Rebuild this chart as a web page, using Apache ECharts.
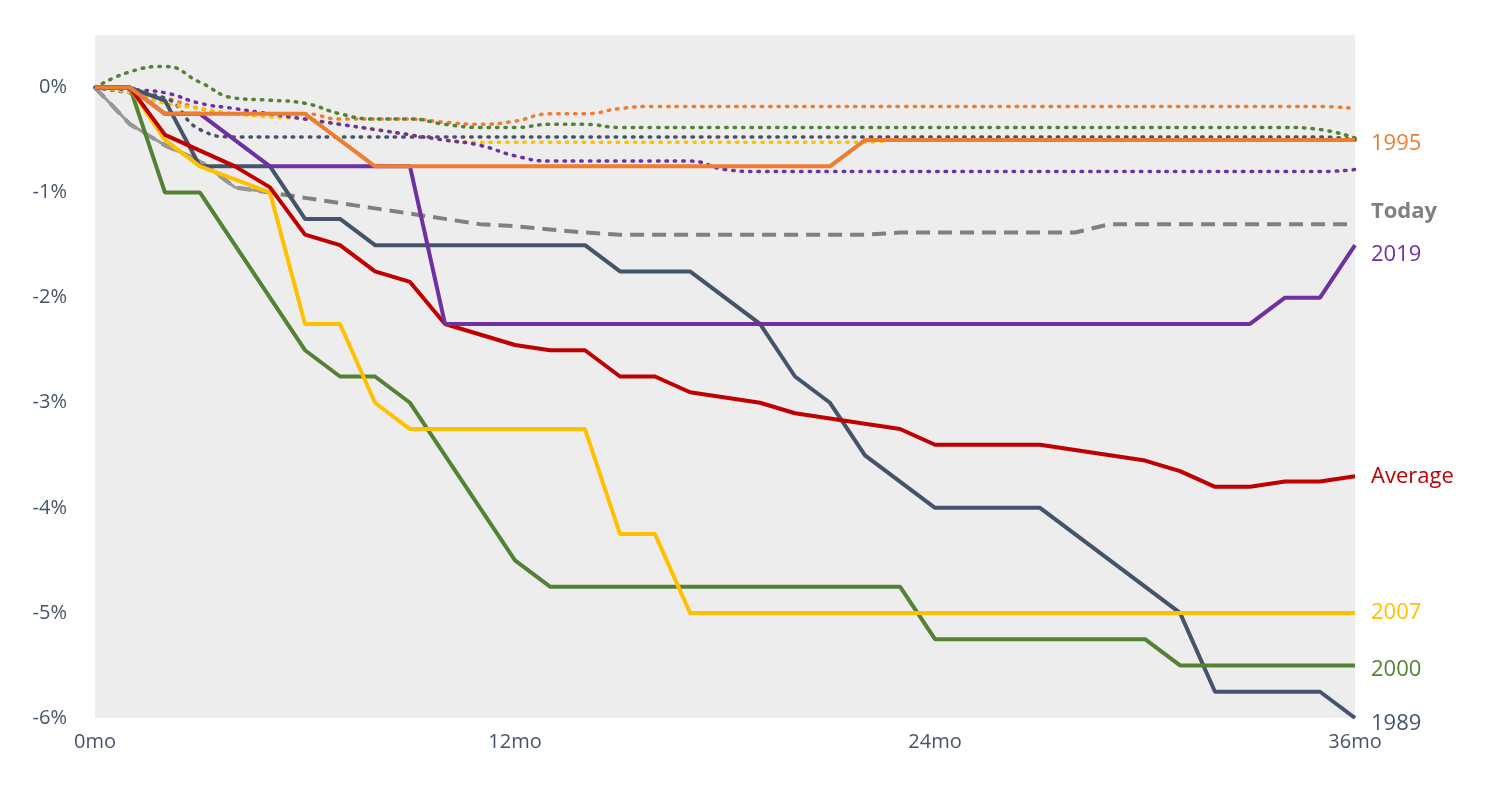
<!DOCTYPE html><html><head><meta charset="utf-8"><script src="https://cdn.jsdelivr.net/npm/echarts@6/dist/echarts.min.js"></script></head><body style="margin:0"><div id="c" style="width:1503px;height:803px"></div><script>
const months=[...Array(37).keys()];
const s1989=[0,0,-0.125,-0.75,-0.75,-0.75,-1.25,-1.25,-1.5,-1.5,-1.5,-1.5,-1.5,-1.5,-1.5,-1.75,-1.75,-1.75,-2,-2.25,-2.75,-3,-3.5,-3.75,-4,-4,-4,-4,-4.25,-4.5,-4.75,-5,-5.75,-5.75,-5.75,-5.75,-6];
const s2007=[0,0,-0.5,-0.75,-0.875,-1,-2.25,-2.25,-3,-3.25,-3.25,-3.25,-3.25,-3.25,-3.25,-4.25,-4.25,-5,-5,-5,-5,-5,-5,-5,-5,-5,-5,-5,-5,-5,-5,-5,-5,-5,-5,-5,-5];
const s2000=[0,0,-1,-1,-1.5,-2,-2.5,-2.75,-2.75,-3,-3.5,-4,-4.5,-4.75,-4.75,-4.75,-4.75,-4.75,-4.75,-4.75,-4.75,-4.75,-4.75,-4.75,-5.25,-5.25,-5.25,-5.25,-5.25,-5.25,-5.25,-5.5,-5.5,-5.5,-5.5,-5.5,-5.5];
const s2019=[0,0,-0.25,-0.25,-0.5,-0.75,-0.75,-0.75,-0.75,-0.75,-2.25,-2.25,-2.25,-2.25,-2.25,-2.25,-2.25,-2.25,-2.25,-2.25,-2.25,-2.25,-2.25,-2.25,-2.25,-2.25,-2.25,-2.25,-2.25,-2.25,-2.25,-2.25,-2.25,-2.25,-2,-2,-1.5];
const s1995=[0,0,-0.25,-0.25,-0.25,-0.25,-0.25,-0.5,-0.75,-0.75,-0.75,-0.75,-0.75,-0.75,-0.75,-0.75,-0.75,-0.75,-0.75,-0.75,-0.75,-0.75,-0.5,-0.5,-0.5,-0.5,-0.5,-0.5,-0.5,-0.5,-0.5,-0.5,-0.5,-0.5,-0.5,-0.5,-0.5];
const sAvg=[0,0,-0.45,-0.6,-0.75,-0.95,-1.4,-1.5,-1.75,-1.85,-2.25,-2.35,-2.45,-2.5,-2.5,-2.75,-2.75,-2.9,-2.95,-3,-3.1,-3.15,-3.2,-3.25,-3.4,-3.4,-3.4,-3.4,-3.45,-3.5,-3.55,-3.65,-3.8,-3.8,-3.75,-3.75,-3.7];
const sToday=[0,-0.35,-0.55,-0.7,-0.95,-1,-1.05,-1.1,-1.15,-1.2,-1.25,-1.3,-1.32,-1.35,-1.38,-1.4,-1.4,-1.4,-1.4,-1.4,-1.4,-1.4,-1.4,-1.38,-1.38,-1.38,-1.38,-1.38,-1.38,-1.3,-1.3,-1.3,-1.3,-1.3,-1.3,-1.3,-1.3];
const dOrange=[0,-0.05,-0.1,-0.2,-0.25,-0.25,-0.25,-0.3,-0.3,-0.3,-0.33,-0.35,-0.32,-0.25,-0.25,-0.2,-0.18,-0.18,-0.18,-0.18,-0.18,-0.18,-0.18,-0.18,-0.18,-0.18,-0.18,-0.18,-0.18,-0.18,-0.18,-0.18,-0.18,-0.18,-0.18,-0.18,-0.2];
const dGreen=[0,0.15,0.2,0.05,-0.1,-0.12,-0.15,-0.25,-0.3,-0.3,-0.35,-0.38,-0.38,-0.35,-0.35,-0.38,-0.38,-0.38,-0.38,-0.38,-0.38,-0.38,-0.38,-0.38,-0.38,-0.38,-0.38,-0.38,-0.38,-0.38,-0.38,-0.38,-0.38,-0.38,-0.38,-0.4,-0.48];
const dSlate=[0,-0.05,-0.1,-0.4,-0.47,-0.47,-0.47,-0.47,-0.47,-0.47,-0.47,-0.47,-0.47,-0.47,-0.47,-0.47,-0.47,-0.47,-0.47,-0.47,-0.47,-0.47,-0.47,-0.47,-0.47,-0.47,-0.47,-0.47,-0.47,-0.47,-0.47,-0.47,-0.47,-0.47,-0.47,-0.47,-0.5];
const dYellow=[0,-0.05,-0.15,-0.2,-0.25,-0.28,-0.3,-0.35,-0.4,-0.45,-0.5,-0.52,-0.52,-0.52,-0.52,-0.52,-0.52,-0.52,-0.52,-0.52,-0.52,-0.52,-0.52,-0.5,-0.5,-0.5,-0.5,-0.5,-0.5,-0.5,-0.5,-0.5,-0.5,-0.5,-0.5,-0.5,-0.5];
const dPurple=[0,-0.02,-0.05,-0.15,-0.2,-0.25,-0.3,-0.35,-0.4,-0.45,-0.5,-0.55,-0.65,-0.7,-0.7,-0.7,-0.7,-0.7,-0.78,-0.8,-0.8,-0.8,-0.8,-0.8,-0.8,-0.8,-0.8,-0.8,-0.8,-0.8,-0.8,-0.8,-0.8,-0.8,-0.8,-0.8,-0.78];
const xTicks={0:'0mo',12:'12mo',24:'24mo',36:'36mo'};
const pts=a=>a.map((v,i)=>[months[i],v]);
function line(name,data,color,opt){
  return Object.assign({type:'line',name,data:pts(data),symbol:'none',lineStyle:{color,width:4},z:3},opt||{});
}
function lbl(text,color,bold,dy){return {show:true,formatter:text,color,fontSize:22,fontFamily:'Open Sans',fontWeight:bold?'bold':'normal',distance:16,offset:[0,dy||0]};}
const dot=(name,d,c)=>line(name,d,c,{smooth:true,lineStyle:{color:c,width:3.5,type:[1.5,7],cap:'round'},z:2});
const series=[
  dot('d1',dOrange,'#ED7D31'),dot('d2',dGreen,'#548235'),dot('d3',dSlate,'#44546A'),dot('d4',dYellow,'#FFC000'),dot('d5',dPurple,'#7030A0'),
  line('Today',sToday,'#808080',{lineStyle:{color:'#808080',width:4,type:[14,8]},endLabel:lbl('Today','#808080',true,-12)}),
  line('TodayS',sToday.slice(0,6),'#808080',{lineStyle:{color:'#999',width:3}}),
  line('1989',s1989,'#44546A',{endLabel:lbl('1989','#44546A',false,6)}),
  line('2000',s2000,'#548235',{endLabel:lbl('2000','#548235',false,4)}),
  line('2007',s2007,'#FFC000',{endLabel:lbl('2007','#FFC000')}),
  line('Average',sAvg,'#C00000',{endLabel:lbl('Average','#C00000')}),
  line('2019',s2019,'#7030A0',{endLabel:lbl('2019','#7030A0',false,10)}),
  line('1995',s1995,'#ED7D31',{endLabel:lbl('1995','#ED7D31',false,4)})
];
echarts.init(document.getElementById('c')).setOption({
  animation:false,
  grid:{left:95,right:148,top:35,bottom:85,show:true,backgroundColor:'#EDEDED',borderWidth:0},
  xAxis:{type:'value',min:0,max:36,interval:12,splitLine:{show:false},axisLine:{show:false},axisTick:{show:false},
    axisLabel:{formatter:v=>xTicks[v]||'',color:'#44546A',fontSize:20,fontFamily:'Open Sans',margin:14}},
  yAxis:{type:'value',min:-6,max:0.5,interval:1,splitLine:{show:false},axisLine:{show:false},axisTick:{show:false},
    axisLabel:{formatter:v=>v>0?'':v+'%',color:'#44546A',fontSize:20,fontFamily:'Open Sans',margin:28}},
  series
});
</script></body></html>
